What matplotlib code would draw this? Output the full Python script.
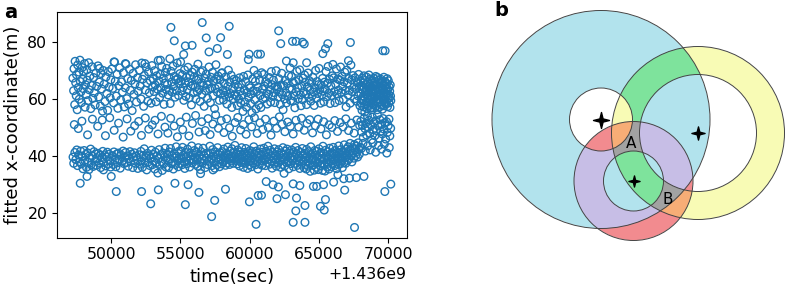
import numpy as np
import matplotlib
matplotlib.use("Agg")
import matplotlib.pyplot as plt
from matplotlib.patches import Circle
from matplotlib.path import Path

# ---- panel a : fitted x-coordinate vs time (seconds after 1.436e9) ----
T0 = 1.436e9

upper_pts = [
    (47230,67.5),(47280,63.1),(47310,70.8),(47360,58.2),(47390,73.4),(47430,65.9),(47470,61.3),(47490,68.7),(47540,56.4),(47570,72.1),(47610,64.2),(47660,69.6),(47690,60.1),(47740,73.8),(47770,66.3),(47810,62.7),(47860,58.9),(47900,71.2),(47940,67.1),(47980,63.8),
    (48010,69.9),(48070,72.6),(48110,57.3),(48140,65.2),(48190,61.7),(48240,70.4),(48260,66.8),(48310,59.6),(48370,72.9),(48410,63.4),(48460,68.2),(48520,56.8),(48570,64.9),(48610,71.5),(48670,60.4),(48720,67.7),(48780,62.3),(48840,58.1),(48890,69.3),(48950,64.6),
    (49040,71.8),(49090,60.9),(49140,66.1),(49210,57.7),(49250,69.1),(49310,63.7),(49370,55.9),(49420,70.2),(49490,65.4),(49550,59.3),(49620,67.9),(49680,62.1),(49740,56.2),(49790,69.8),(49850,64.3),(49920,60.6),(49970,66.9),
    (50040,70.7),(50110,63.9),(50170,58.8),(50240,73.1),(50290,66.4),(50360,61.2),(50420,68.9),(50480,56.9),(50550,64.8),(50610,71.1),(50680,59.8),(50740,66.2),(50810,62.6),(50880,69.4),(50940,57.4),
    (51010,64.1),(51060,72.4),(51120,60.3),(51190,67.3),(51250,58.4),(51320,70.6),(51380,63.2),(51450,66.7),(51510,56.1),(51580,69.2),(51640,61.8),(51710,65.5),(51760,72.2),(51820,59.1),(51890,67.6),(51950,62.9),
    (52030,70.3),(52090,64.7),(52150,60.2),(52210,72.8),(52260,67.1),(52340,57.6),(52390,68.4),(52450,63.3),(52520,71.4),(52580,65.8),(52640,59.4),(52690,69.7),(52750,62.4),(52820,66.6),(52880,58.7),(52940,71.9),(52990,64.4),
    (53040,67.2),(53090,62.8),(53120,70.1),(53180,65.1),(53240,59.2),(53280,68.3),(53340,63.6),(53390,73.7),(53440,66.5),(53490,60.7),(53540,68.8),(53590,64.1),(53650,71.6),(53710,62.2),(53760,67.4),(53810,58.3),(53860,65.7),(53910,69.5),(53960,63.5),
    (54010,70.9),(54060,65.3),(54110,61.6),(54160,67.8),(54210,63.2),(54260,58.6),(54320,69.9),(54360,66.1),(54410,62.5),(54460,71.7),(54510,64.6),(54560,68.1),(54610,60.8),(54660,66.9),(54710,63.1),(54760,72.8),(54810,67.3),(54860,61.4),(54910,65.6),(54960,69.1),
    (55010,73.2),(55040,66.4),(55090,62.9),(55140,68.6),(55190,64.2),(55240,59.7),(55290,70.4),(55340,65.8),(55390,61.1),(55440,67.7),(55490,63.4),(55540,71.3),(55590,66.2),(55640,60.6),(55690,68.4),(55740,64.7),(55790,58.1),(55840,69.6),(55890,65.1),(55940,62.3),(55980,67.9),
    (56030,70.6),(56070,64.3),(56120,60.2),(56160,66.8),(56210,62.7),(56260,72.4),(56310,67.2),(56360,63.5),(56410,59.3),(56460,69.7),(56510,65.9),(56560,61.8),(56610,70.1),(56660,64.9),(56710,57.6),(56760,67.4),(56810,63.1),(56860,68.9),(56910,65.2),(56960,60.4),
    (57010,66.3),(57060,71.4),(57110,63.7),(57160,58.9),(57210,67.8),(57260,64.1),(57310,69.5),(57360,61.3),(57410,66.6),(57460,56.8),(57510,63.9),(57560,72.2),(57610,67.1),(57660,62.6),(57710,68.3),(57760,64.5),(57810,59.7),(57860,66.9),(57910,61.9),(57960,69.2),
    (58010,69.4),(58060,63.2),(58110,59.8),(58160,65.7),(58210,61.5),(58260,67.9),(58310,62.8),(58360,58.4),(58410,64.6),(58460,70.3),(58510,60.9),(58560,66.2),(58610,62.1),(58660,68.5),(58710,57.2),(58760,63.8),(58810,60.3),(58860,67.1),(58910,61.7),(58960,65.4),
    (59010,66.7),(59060,61.2),(59110,57.9),(59160,64.4),(59210,60.1),(59260,67.6),(59310,62.9),(59360,58.7),(59410,65.3),(59460,61.6),(59510,55.8),(59560,68.1),(59610,63.4),(59660,59.1),(59710,66.2),(59760,57.3),(59810,62.4),(59860,68.6),(59910,60.7),(59960,64.9),
    (60010,64.1),(60060,58.6),(60110,61.9),(60160,55.4),(60210,67.2),(60260,63.1),(60310,70.2),(60360,59.9),(60410,66.4),(60460,56.7),(60510,62.8),(60560,68.7),(60610,64.3),(60660,58.1),(60710,66.9),(60760,61.4),(60810,57.2),(60860,69.4),(60910,63.6),(60960,60.2),
    (61010,68.8),(61060,64.7),(61110,60.6),(61160,66.3),(61210,62.1),(61260,58.4),(61310,65.6),(61360,61.8),(61410,67.7),(61460,63.4),(61510,59.1),(61560,69.8),(61610,65.2),(61660,61.1),(61710,66.8),(61760,62.4),(61810,58.9),(61860,64.6),(61910,70.1),(61960,63.7),
    (62010,64.4),(62060,60.8),(62110,67.3),(62160,62.6),(62210,58.3),(62260,65.1),(62310,69.2),(62360,61.7),(62410,56.4),(62460,64.9),(62510,60.2),(62560,66.7),(62610,62.3),(62660,58.8),(62710,65.6),(62760,61.1),(62810,68.4),(62860,63.9),(62910,71.1),(62960,59.6),
    (63010,68.1),(63060,63.6),(63110,59.4),(63160,65.8),(63210,61.2),(63260,57.1),(63310,66.4),(63360,62.7),(63410,69.9),(63460,64.2),(63510,60.3),(63560,66.9),(63610,70.4),(63660,61.6),(63710,57.8),(63760,64.7),(63810,59.9),(63860,67.5),(63910,62.8),(63960,68.6),
    (64010,66.1),(64060,61.9),(64110,58.2),(64160,64.4),(64210,69.3),(64260,60.7),(64310,66.6),(64360,63.2),(64410,59.4),(64460,65.9),(64510,61.3),(64560,67.8),(64610,62.6),(64660,57.9),(64710,64.1),(64760,70.2),(64810,60.4),(64860,66.3),(64910,62.1),(64960,65.2),
    (65010,70.9),(65060,63.4),(65110,58.7),(65160,65.1),(65210,61.6),(65260,67.4),(65310,62.9),(65360,59.2),(65410,66.1),(65460,63.7),(65510,69.8),(65560,60.9),(65610,65.7),(65660,71.6),(65710,62.2),(65760,67.1),(65810,58.6),(65860,64.8),(65910,61.4),(65960,68.3),
    (66010,72.3),(66060,67.6),(66110,62.8),(66160,58.9),(66210,65.4),(66260,70.7),(66310,61.9),(66360,67.2),(66410,63.3),(66460,59.6),(66510,66.8),(66560,71.4),(66610,62.4),(66660,68.1),(66710,64.6),(66760,60.1),(66810,66.2),(66860,69.6),(66910,63.1),(66960,57.4),
    (67010,70.3),(67060,65.7),(67110,61.6),(67160,67.4),(67210,63.2),(67260,58.7),(67310,72.1),(67360,66.9),(67410,62.7),(67460,68.4),(67510,64.3),(67560,60.2),(67610,67.6),(67660,63.8),(67710,59.4),(67760,65.9),(67810,61.3),(67860,68.8),(67910,64.5),(67960,57.8),
    (68010,66.4),(68030,62.1),(68050,58.7),(68070,64.8),(68090,60.3),(68110,56.2),(68130,67.5),(68150,63.4),(68170,59.6),(68190,65.9),(68210,61.2),(68230,57.4),(68250,68.3),(68270,64.1),(68290,60.8),(68310,55.6),(68330,66.7),(68350,62.9),(68370,58.3),(68390,65.2),
    (68410,61.7),(68430,67.9),(68450,63.6),(68470,59.1),(68490,56.8),(68510,64.5),(68530,60.4),(68550,66.1),(68570,62.4),(68590,57.9),(68610,68.6),(68630,63.9),(68650,59.8),(68670,65.4),(68690,61.5),(68710,56.9),(68730,67.2),(68750,62.7),(68770,58.6),(68790,64.3),
    (68810,60.9),(68830,66.8),(68850,62.2),(68870,57.1),(68890,63.7),(68910,59.4),(68930,65.6),(68950,61.1),(68970,67.4),(68990,58.2),
    (69010,64.9),(69030,60.6),(69050,66.3),(69070,62.8),(69090,57.7),(69110,68.1),(69130,63.2),(69150,59.5),(69170,65.1),(69190,61.3),(69210,56.4),(69230,67.7),(69250,62.5),(69270,58.9),(69290,64.6),(69310,60.1),(69330,66.9),(69350,61.8),(69370,57.3),(69390,63.4),
    (69410,59.2),(69430,65.8),(69450,61.6),(69470,67.1),(69490,62.3),(69510,58.1),(69530,64.2),(69550,60.7),(69570,66.4),(69590,56.6),(69610,63.1),(69630,59.7),(69650,65.3),(69670,61.4),(69690,67.8),(69710,62.6),(69730,57.8),(69750,64.7),(69770,60.2),(69790,66.2),
    (69810,61.9),(69830,58.4),(69850,63.8),(69870,59.3),(69890,65.5),(69910,62.1),(69930,67.3),(69950,57.5),(69970,63.6),(69990,60.4),
    (70010,66.6),(70030,61.7),(70050,58.8),(70070,64.4),(70090,60.5),(70110,62.9),(70130,57.2),(70150,65.1),(70170,61.2),(70190,59.6),
]

middle_pts = [
    (47330,51.2),(47620,49.8),(47880,52.4),(48290,47.6),(48640,53.1),(49020,50.6),(49350,52.8),(49580,47.3),(49890,53.6),(50210,49.2),
    (50530,51.7),(50860,46.8),(51140,53.2),(51410,48.9),(51690,50.8),(51980,52.3),(52180,47.4),(52460,53.5),(52710,49.6),(52960,51.1),
    (53160,52.7),(53380,47.9),(53620,54.1),(53880,50.3),(54090,48.2),(54290,53.4),(54540,50.7),(54780,46.9),(54990,52.1),(55160,49.4),
    (55420,53.8),(55610,47.2),(55860,51.6),(56090,54.4),(56340,48.6),(56540,52.2),(56790,49.1),(56990,53.3),(57140,47.7),(57340,51.4),
    (57540,54.6),(57740,49.9),(57940,52.6),(58140,48.4),(58340,53.2),(58540,50.1),(58740,47.1),(58940,51.9),(59140,53.7),(59340,49.3),
    (59540,51.2),(59740,47.8),(59940,52.9),(60140,50.4),(60340,53.6),(60540,48.1),(60740,51.8),(60940,49.5),(61140,53.1),(61340,50.2),
    (61540,47.5),(61740,52.4),(61940,49.9),(62140,53.9),(62340,51.3),(62540,48.7),(62740,52.1),(62940,50.6),(63140,47.9),(63340,52.7),
    (63540,50.3),(63740,53.4),(63940,49.2),(64140,51.6),(64340,52.9),(64540,48.3),(64740,50.8),(64940,53.1),(65140,49.7),(65340,52.2),
    (65540,47.6),(65740,51.1),(65940,50.2),(66140,52.6),(66340,48.8),(66540,51.9),(66740,50.4),(66940,53.2),(67140,49.1),(67340,51.7),
    (67540,48.2),(67740,52.8),(67940,50.9),(68020,52.3),(68080,48.6),(68140,50.9),(68200,46.7),(68260,53.4),(68320,49.8),(68380,51.6),
    (68440,47.5),(68500,54.2),(68560,50.3),(68620,52.7),(68680,48.1),(68740,51.2),(68800,45.9),(68860,53.8),(68920,49.4),(68980,51.9),
    (69040,47.3),(69100,52.5),(69160,49.1),(69220,54.6),(69280,50.7),(69340,46.4),(69400,52.9),(69460,48.8),(69520,51.4),(69580,47.9),
    (69640,53.3),(69700,49.6),(69760,51.8),(69820,46.1),(69880,52.2),(69940,48.4),(70000,50.8),(70060,53.1),(70120,47.2),(70180,49.9),
]

lower_pts = [
    (47240,39.8),(47290,37.6),(47370,41.4),(47440,38.9),(47510,42.3),(47560,36.8),(47640,40.5),(47710,38.2),(47790,41.9),(47840,37.4),(47910,40.1),(47960,35.7),
    (48040,42.1),(48090,38.6),(48160,40.7),(48210,36.2),(48280,41.3),(48340,37.9),(48390,35.4),(48440,39.5),(48510,42.6),(48550,37.1),(48630,40.2),(48690,36.5),(48750,41.7),(48810,38.3),(48870,40.9),(48920,36.9),(48980,39.2),
    (49060,41.1),(49120,37.7),(49190,40.4),(49240,36.1),(49320,39.6),(49390,41.8),(49450,38.1),(49520,40.6),(49590,36.7),(49650,39.9),(49720,41.5),(49780,37.3),(49840,40.8),(49910,38.5),(49960,36.3),
    (50080,40.3),(50140,37.2),(50190,41.6),(50270,38.7),(50340,36.4),(50410,40.9),(50460,37.8),(50520,41.2),(50590,39.1),(50650,35.9),(50720,40.5),(50790,38.4),(50850,41.9),(50920,37.5),(50970,39.7),
    (51040,41.4),(51110,37.9),(51160,40.2),(51220,36.6),(51290,39.3),(51350,41.7),(51420,38.2),(51480,40.8),(51550,36.1),(51610,39.8),(51680,41.3),(51740,37.6),(51810,40.1),(51860,38.9),(51920,35.8),
    (52010,40.6),(52070,37.3),(52140,41.8),(52190,38.5),(52250,36.2),(52320,40.4),(52380,42.7),(52440,37.9),(52510,39.6),(52560,35.3),(52620,41.1),(52680,38.1),(52740,40.3),(52790,36.8),(52850,39.4),(52910,42.2),(52970,37.1),
    (53030,40.7),(53070,38.4),(53140,35.6),(53190,41.5),(53250,37.8),(53310,40.1),(53360,34.2),(53420,39.3),(53460,42.4),(53520,36.9),(53580,40.6),(53640,38.2),(53690,35.1),(53750,41.2),(53790,37.4),(53850,39.8),(53890,42.9),(53950,36.3),
    (54030,40.9),(54070,38.7),(54140,36.1),(54190,41.6),(54240,39.2),(54280,42.8),(54340,37.5),(54390,40.3),(54440,38.1),(54490,35.6),(54550,41.1),(54590,39.5),(54640,37.2),(54690,43.4),(54740,40.1),(54790,38.6),(54840,36.4),(54880,41.8),(54940,39.1),(54990,37.6),
    (55030,41.9),(55060,39.3),(55110,37.1),(55150,43.2),(55210,40.4),(55260,38.2),(55310,35.8),(55360,41.5),(55410,39.7),(55460,37.4),(55510,42.6),(55560,40.2),(55620,38.4),(55660,36.3),(55710,41.2),(55760,39.1),(55810,43.7),(55860,37.7),(55910,40.6),(55960,38.8),
    (56010,42.1),(56060,39.6),(56110,37.3),(56150,41.4),(56190,38.9),(56240,36.6),(56290,43.1),(56350,40.1),(56400,38.1),(56440,35.4),(56490,41.7),(56540,39.2),(56590,37.6),(56640,42.9),(56690,40.3),(56740,38.6),(56780,36.1),(56840,41.1),(56890,39.4),(56940,37.2),
    (57030,40.8),(57070,38.3),(57120,43.6),(57180,41.2),(57220,39.1),(57280,36.8),(57320,42.4),(57380,40.1),(57420,38.2),(57480,35.9),(57520,41.6),(57580,39.6),(57620,37.1),(57680,43.1),(57720,40.7),(57780,38.8),(57820,36.4),(57880,41.3),(57920,39.2),(57980,37.4),
    (58020,41.7),(58060,39.8),(58090,38.1),(58130,42.6),(58180,40.3),(58220,38.7),(58250,36.9),(58290,41.1),(58330,39.4),(58380,37.8),(58420,43.3),(58470,40.6),(58510,39.1),(58550,37.2),(58590,41.9),(58640,40.1),(58680,38.4),(58720,42.7),(58770,39.7),(58810,37.6),(58850,41.2),(58890,39.2),(58930,43.9),(58980,38.6),
    (59020,40.9),(59060,39.1),(59090,37.4),(59130,42.3),(59180,40.4),(59220,38.6),(59260,36.7),(59290,41.6),(59330,39.7),(59380,37.9),(59420,43.1),(59470,40.2),(59510,38.3),(59550,36.2),(59590,41.4),(59640,39.5),(59680,37.6),(59720,42.8),(59770,40.7),(59810,38.9),(59850,35.8),(59890,41.3),(59930,39.3),(59980,37.1),
    (60020,42.1),(60060,40.3),(60090,38.5),(60130,36.4),(60180,41.7),(60220,39.6),(60260,37.8),(60290,43.4),(60330,40.8),(60380,38.9),(60420,37.1),(60470,41.9),(60510,39.9),(60550,38.2),(60590,35.6),(60640,41.2),(60680,39.4),(60720,37.4),(60770,42.6),(60810,40.5),(60850,38.6),(60890,36.9),(60930,41.5),(60980,39.2),
    (61020,42.9),(61060,40.6),(61110,38.7),(61150,36.8),(61190,41.8),(61230,39.8),(61280,37.9),(61320,43.6),(61360,41.1),(61410,39.1),(61450,37.3),(61490,42.2),(61540,40.2),(61580,38.3),(61620,35.9),(61660,41.4),(61710,39.5),(61750,37.6),(61790,42.7),(61840,40.7),(61880,38.8),(61920,36.6),(61970,41.6),
    (62020,39.6),(62060,37.7),(62100,42.4),(62140,40.4),(62190,38.4),(62230,36.2),(62270,41.3),(62320,39.3),(62360,37.2),(62400,43.1),(62450,40.8),(62490,38.9),(62530,36.7),(62580,41.9),(62620,39.9),(62660,37.9),(62700,42.6),(62750,40.1),(62790,38.1),(62830,35.7),(62880,41.2),(62920,39.4),(62970,37.5),
    (63020,42.3),(63060,40.2),(63100,38.6),(63150,36.4),(63190,41.6),(63230,39.7),(63280,37.6),(63320,43.2),(63360,40.9),(63410,38.8),(63450,36.9),(63490,42.1),(63540,40.1),(63580,38.2),(63620,35.8),(63670,41.4),(63710,39.3),(63750,37.3),(63800,42.8),(63840,40.6),(63880,38.5),(63930,36.1),(63970,41.1),
    (64010,39.4),(64040,37.2),(64080,35.6),(64110,42.5),(64150,40.3),(64190,38.4),(64220,36.6),(64260,41.7),(64300,39.6),(64330,37.5),(64370,34.8),(64410,43.4),(64440,40.8),(64480,38.9),(64520,36.9),(64550,41.2),(64590,39.1),(64630,37.1),(64660,35.2),(64700,42.1),(64740,40.4),(64770,38.3),(64810,36.2),(64850,41.8),(64880,39.8),(64920,37.7),(64960,35.4),
    (65000,42.7),(65040,40.6),(65070,38.7),(65110,36.7),(65150,41.4),(65180,39.3),(65220,37.4),(65260,35.1),(65290,43.6),(65330,41.1),(65370,39.1),(65400,37.1),(65440,34.9),(65480,42.2),(65510,40.2),(65550,38.1),(65590,36.3),(65620,41.6),(65660,39.7),(65700,37.6),(65730,35.6),(65770,42.9),(65810,40.7),(65840,38.6),(65880,36.5),(65920,41.3),(65950,39.2),(65990,37.3),
    (66030,43.2),(66060,40.9),(66100,38.8),(66140,36.8),(66170,42.1),(66210,40.1),(66250,38.2),(66280,35.7),(66320,41.5),(66360,39.4),(66390,37.2),(66430,43.7),(66470,41.2),(66500,39.3),(66540,37.4),(66580,42.4),(66610,40.4),(66650,38.4),(66690,36.1),(66720,41.8),(66760,39.8),(66800,37.8),(66830,44.1),(66870,41.4),(66910,39.6),(66940,37.6),(66980,42.6),
    (67020,40.6),(67070,38.6),(67110,43.4),(67160,41.3),(67200,39.2),(67250,44.6),(67290,42.1),(67340,40.2),(67380,38.1),(67430,43.1),(67470,41.1),(67520,39.4),(67560,44.2),(67610,42.4),(67650,40.3),(67700,43.6),(67740,41.7),(67790,39.8),(67830,44.8),(67880,42.6),(67920,40.8),(67970,43.3),
    (68060,42.8),(68180,44.6),(68350,41.9),(68520,43.7),(68700,42.3),(68900,44.9),(69100,41.5),(69300,43.8),(69520,42.6),(69720,44.3),(69900,41.2),(70080,43.1),
]

outlier_pts = [
    (54310,85.3),(56570,87),(58520,85.7),(54550,80.6),(56860,81.6),(55350,78.8),(57900,81.7),(57660,77.9),
    (62090,84.1),(57060,76.7),(58390,75.8),(60580,75.9),(60780,75.9),(62240,79.6),(63090,80.4),(63350,80.4),
    (63820,80.1),(63940,79.5),(65640,79.6),(65470,77.8),(65280,76.1),(67270,80),(69610,77.1),(69780,77.1),
    (67130,73.6),(64110,72.9),(63140,72.9),(62650,73.5),(59950,75.9),(59900,74),(55840,79),(55230,75.8),
    (54230,74.3),(53550,73.8),(52430,72.6),(51020,72.6),(50200,73.2),(49150,70.9),
    (50360,27.7),(52190,27.7),(52850,23.4),(53400,28.3),(55350,23.1),(56330,27.4),(57250,18.9),(57470,24.6),
    (58250,28.5),(59980,24.1),(60460,16.2),(60610,26.3),(60850,26.4),(61970,25.2),(62070,29.3),(62480,34.1),
    (63140,30.4),(63330,20.9),(63140,16.9),(63380,25.4),(63990,16.9),(63620,29.8),(63990,22.8),(64600,29.5),
    (64840,29.5),(65110,22.5),(65380,21.2),(65470,24.9),(66860,28.2),(67570,15.1),(67200,32.4),(68250,33),
    (67700,32.6),(69760,27.7),(70190,30.3),(66790,32.2),(66370,33.6),(65330,30.1),(66060,31),(47760,30.6),
    (48250,33),(50000,33),(49440,35.3),(54600,30.6),(55550,30.1),(56450,34),(57350,35.3),(61190,31.2),
    (61680,30.1),(62580,26.6),
]

pts = np.array(upper_pts + middle_pts + lower_pts + outlier_pts, dtype=float)
t_sec = T0 + pts[:, 0]
x_fit = pts[:, 1]

# ---- panel b : three annuli (centre x, centre y, inner r, outer r) in panel pixels ----
ring_cx = [601.0, 698.0, 633.5]
ring_cy = [119.5, 133.0, 181.0]
ring_rin = [31.5, 58.5, 30.0]
ring_rout = [109.0, 86.5, 59.5]
star_size = [11.5, 9.5, 8]

# colour for each membership combination (blue, yellow, red)
region_colors = {
    (1, 0, 0): "#b3e3ee",
    (0, 1, 0): "#f8fbb5",
    (0, 0, 1): "#f28b8f",
    (1, 1, 0): "#7ee39c",
    (1, 0, 1): "#c8bfe7",
    (0, 1, 1): "#f7ad76",
    (1, 1, 1): "#a2a2a2",
}
point_labels = ["A", "B"]
point_lx = [631, 668]
point_ly = [143, 199]

fig = plt.figure(figsize=(7.85, 2.89), dpi=100)

ax = fig.add_axes([57 / 785, 1 - 237.7 / 289, (406.7 - 57) / 785, (237.7 - 12.3) / 289])
ax.scatter(t_sec, x_fit, s=30, facecolors="none", edgecolors="#1f77b4", linewidths=1.0)
ax.set_xticks(T0 + np.array([50000, 55000, 60000, 65000, 70000]))
ax.set_yticks([20, 40, 60, 80])
ax.tick_params(labelsize=11.3)
ax.xaxis.get_offset_text().set_fontsize(11.3)
ax.set_xlabel("time(sec)", fontsize=13)
ax.set_ylabel("fitted x-coordinate(m)", fontsize=13)
fig.text(4 / 785, 1 - 13 / 289, "a", fontsize=14, fontweight="bold", va="center", ha="left")

# panel b in pixel coordinates
bx = fig.add_axes([480 / 785, 0, 305 / 785, 1])
bx.set_xlim(480, 785)
bx.set_ylim(289, 0)
bx.axis("off")

res = 4
gx = np.linspace(480, 785, 305 * res)
gy = np.linspace(0, 289, 289 * res)
GX, GY = np.meshgrid(gx, gy)
member = []
for cx, cy, ri, ro in zip(ring_cx, ring_cy, ring_rin, ring_rout):
    d = np.hypot(GX - cx, GY - cy)
    member.append((d >= ri) & (d <= ro))
img = np.ones(GX.shape + (4,))
img[..., 3] = 0
for key, col in region_colors.items():
    m = np.ones(GX.shape, dtype=bool)
    for k, flag in enumerate(key):
        m &= member[k] if flag else ~member[k]
    img[m] = matplotlib.colors.to_rgba(col)
bx.imshow(img, extent=(480, 785, 289, 0), interpolation="antialiased", zorder=1)

for cx, cy, ri, ro in zip(ring_cx, ring_cy, ring_rin, ring_rout):
    for r in (ri, ro):
        bx.add_patch(Circle((cx, cy), r, fill=False, edgecolor="#444444", lw=0.7, zorder=2))

star = Path([(0, 1), (0.2, 0.2), (1, 0), (0.2, -0.2), (0, -1), (-0.2, -0.2), (-1, 0), (-0.2, 0.2), (0, 1)],
            [Path.MOVETO] + [Path.LINETO] * 7 + [Path.CLOSEPOLY])
for cx, cy, sz in zip(ring_cx, ring_cy, star_size):
    bx.plot(cx, cy, marker=star, markersize=sz, color="black", zorder=3)

for lab, lx, ly in zip(point_labels, point_lx, point_ly):
    bx.text(lx, ly, lab, fontsize=11, ha="center", va="center", zorder=4)

fig.text(494 / 785, 1 - 10 / 289, "b", fontsize=14, fontweight="bold", va="center", ha="left")

fig.savefig("out.png", dpi=100)
